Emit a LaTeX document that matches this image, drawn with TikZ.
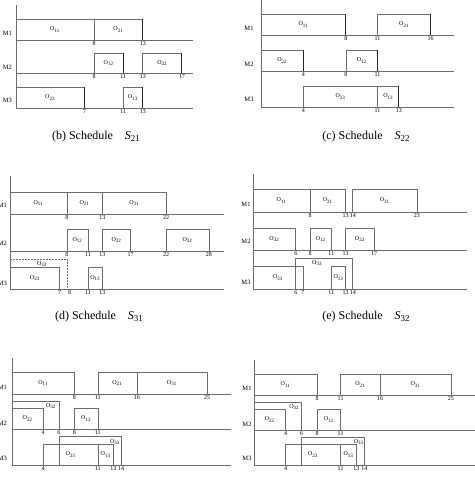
\documentclass[tikz,border=0pt]{standalone}
\usepackage{fontspec}
\setmainfont{Liberation Serif}
\newcounter{nd}
\tikzset{
  ln/.style={draw=gray!85!black, line width=0.55pt},
  rt/.style={draw=black!85, line width=0.8pt},
  dsh/.style={draw=gray!85!black, line width=0.55pt, dash pattern=on 2pt off 1pt},
  oplab/.style={font=\fontsize{6}{6}\selectfont, inner sep=0pt},
  tk/.style={font=\fontsize{6}{6}\selectfont, inner sep=0pt},
  mlab/.style={font=\fontsize{6.5}{6.5}\selectfont, inner sep=0pt},
  captext/.style={font=\fontsize{12}{12}\selectfont, inner sep=0pt}
}
% operation box: t1, t2, top, base, label
\newcommand\opbox[5]{%
  \draw[ln] (#1,#4) -- (#1,#3) -- (#2,#3);
  \draw[rt] (#2,#3) -- (#2,#4);
  \stepcounter{nd}%
  \node[oplab] (n\thend) at ({(#1+#2)/2},{(#3+#4)/2}) {O\textsubscript{#5}};}
% thin operation box, label at given position
\newcommand\ovbox[7]{%
  \draw[ln] (#1,#4) -- (#1,#3) -- (#2,#3) -- (#2,#4);
  \stepcounter{nd}%
  \node[oplab] (n\thend) at (#6,#7) {O\textsubscript{#5}};}
\newcommand\tlab[3]{\stepcounter{nd}\node[tk] (n\thend) at ({#1},{#2+4}) {#3};}
\newcommand\caplab[4]{\stepcounter{nd}\node[captext] (n\thend) at (#1,#2) {(#3) Schedule\quad\textit{S}\raisebox{-0.35ex}{\fontsize{9}{9}\selectfont #4}};}
\begin{document}
\begin{tikzpicture}[x=1pt,y=-1pt]
\useasboundingbox (0,0) rectangle (474,486);
\fill[white] (0,0) rectangle (474,486);

% ---------------- panel b ----------------
\begin{scope}[xshift=16pt, x=9.75pt]
  \draw[ln] (0,5) -- (0,108);
  \foreach \b in {40,73,108} \draw[ln] (0,\b) -- (18.15,\b);
  \opbox{0}{8}{19}{40}{11}
  \opbox{8}{13}{19}{40}{21}
  \opbox{8}{11}{53}{73}{12}
  \opbox{13}{17}{53}{73}{22}
  \opbox{0}{7}{87}{108}{23}
  \opbox{11}{13}{87}{108}{13}
  \tlab{8}{40}{8}\tlab{13}{40}{13}
  \tlab{8}{73}{8}\tlab{11}{73}{11}\tlab{13}{73}{13}\tlab{17}{73}{17}
  \tlab{7}{108}{7}\tlab{11}{108}{11}\tlab{13}{108}{13}
\end{scope}
\node[mlab, anchor=east] (mb1) at (12,33) {M1};
\node[mlab, anchor=east] (mb2) at (12,67) {M2};
\node[mlab, anchor=east] (mb3) at (12,100) {M3};
\caplab{96}{137}{b}{21}

% ---------------- panel c ----------------
\begin{scope}[xshift=261pt, x=10.6pt]
  \draw[ln] (0,0) -- (0,108);
  \foreach \b in {35,71,107} \draw[ln] (0,\b) -- (18.2,\b);
  \opbox{0}{8}{14}{35}{11}
  \opbox{11}{16}{14}{35}{21}
  \opbox{0}{4}{50}{71}{22}
  \opbox{8}{11}{50}{71}{12}
  \opbox{4}{11}{86}{107}{23}
  \opbox{11}{13}{86}{107}{13}
  \tlab{8}{35}{8}\tlab{11}{35}{11}\tlab{16}{35}{16}
  \tlab{4}{71}{4}\tlab{8}{71}{8}\tlab{11}{71}{11}
  \tlab{4}{107}{4}\tlab{11}{107}{11}\tlab{13}{107}{13}
\end{scope}
\node[mlab] (mc1) at (249,28) {M1};
\node[mlab] (mc2) at (249,64) {M2};
\node[mlab] (mc3) at (249,99) {M3};
\caplab{366}{137}{c}{22}

% ---------------- panel d ----------------
\begin{scope}[xshift=10pt, x=7.1pt, rt/.style={ln}]
  \draw[ln] (0,176) -- (0,289);
  \foreach \b in {214,251,289} \draw[ln] (0,\b) -- (30.1,\b);
  \opbox{0}{8}{192}{214}{11}
  \opbox{8}{13}{192}{214}{21}
  \opbox{13}{22}{192}{214}{31}
  \opbox{8}{11}{229}{251}{12}
  \opbox{13}{17}{229}{251}{22}
  \opbox{22}{28}{229}{251}{32}
  \opbox{0}{7}{267}{289}{23}
  \opbox{11}{13}{267}{289}{13}
  \draw[dsh] (0,259) -- (8,259) -- (8,289);
  \stepcounter{nd}\node[oplab] (n\thend) at (4.5,264) {O\textsubscript{33}};
  \tlab{8}{214}{8}\tlab{13}{214}{13}\tlab{22}{214}{22}
  \tlab{8}{251}{8}\tlab{11}{251}{11}\tlab{13}{251}{13}\tlab{17}{251}{17}\tlab{22}{251}{22}\tlab{28}{251}{28}
  \tlab{7}{289}{7}\tlab{8.4}{289}{8}\tlab{11}{289}{11}\tlab{13}{289}{13}
\end{scope}
\node[mlab, anchor=east] (md1) at (7,205) {M1};
\node[mlab, anchor=east] (md2) at (7,243) {M2};
\node[mlab, anchor=east] (md3) at (7,283) {M3};
\caplab{99}{317}{d}{31}

% ---------------- panel e ----------------
\begin{scope}[xshift=253pt, x=7.125pt, rt/.style={ln}]
  \draw[ln] (0,174) -- (0,289);
  \foreach \b in {212,250,289} \draw[ln] (0,\b) -- (30,\b);
  \opbox{0}{8}{189}{212}{11}
  \opbox{8}{13}{189}{212}{21}
  \opbox{14}{23}{189}{212}{31}
  \opbox{0}{6}{228}{250}{32}
  \opbox{8}{11}{228}{250}{12}
  \opbox{13}{17}{228}{250}{22}
  \opbox{0}{7}{266}{289}{23}
  \opbox{11}{13}{266}{289}{13}
  \ovbox{6}{14}{258}{289}{33}{9}{263}
  \tlab{8}{212}{8}\tlab{13}{212}{13}\tlab{14}{212}{14}\tlab{23}{212}{23}
  \tlab{6}{250}{6}\tlab{8}{250}{8}\tlab{11}{250}{11}\tlab{13}{250}{13}\tlab{17}{250}{17}
  \tlab{6}{289}{6}\tlab{7}{289}{7}\tlab{11}{289}{11}\tlab{13}{289}{13}\tlab{14}{289}{14}
\end{scope}
\node[mlab] (me1) at (246,204) {M1};
\node[mlab] (me2) at (246,241) {M2};
\node[mlab] (me3) at (246,282) {M3};
\caplab{366}{317}{e}{32}

% ---------------- panel f ----------------
\begin{scope}[xshift=12pt, x=7.8pt, rt/.style={ln}]
  \draw[ln] (0,358) -- (0,466);
  \foreach \b in {394,429,465} \draw[ln] (0,\b) -- (28.1,\b);
  \opbox{0}{8}{372}{394}{11}
  \opbox{11}{16}{372}{394}{21}
  \opbox{16}{25}{372}{394}{31}
  \ovbox{0}{6}{401}{429}{32}{5}{406}
  \opbox{0}{4}{408}{429}{22}
  \opbox{8}{11}{408}{429}{12}
  \ovbox{6}{14}{436}{465}{33}{13.2}{442}
  \opbox{4}{11}{444}{465}{23}
  \opbox{11}{13}{444}{465}{13}
  \tlab{8}{394}{8}\tlab{11}{394}{11}\tlab{16}{394}{16}\tlab{25}{394}{25}
  \tlab{4}{429}{4}\tlab{6}{429}{6}\tlab{8}{429}{8}\tlab{11}{429}{11}
  \tlab{4}{465}{4}\tlab{11}{465}{11}\tlab{13}{465}{13}\tlab{14}{465}{14}
\end{scope}
\node[mlab, anchor=east] (mf1) at (7,387) {M1};
\node[mlab, anchor=east] (mf2) at (7,423) {M2};
\node[mlab, anchor=east] (mf3) at (7,458) {M3};

% ---------------- panel g ----------------
\begin{scope}[xshift=254pt, x=7.875pt, rt/.style={ln}]
  \draw[ln] (0,360) -- (0,466);
  \foreach \b in {395,430,465} \draw[ln] (0,\b) -- (28,\b);
  \opbox{0}{8}{374}{395}{11}
  \opbox{11}{16}{374}{395}{21}
  \opbox{16}{25}{374}{395}{31}
  \ovbox{0}{6}{402}{430}{32}{5.1}{407}
  \opbox{0}{4}{409}{430}{22}
  \opbox{8}{11}{409}{430}{12}
  \ovbox{6}{14}{437}{465}{33}{13.3}{442}
  \opbox{4}{11}{444}{465}{23}
  \opbox{11}{13}{444}{465}{13}
  \tlab{8}{395}{8}\tlab{11}{395}{11}\tlab{16}{395}{16}\tlab{25}{395}{25}
  \tlab{4}{430}{4}\tlab{6}{430}{6}\tlab{8}{430}{8}\tlab{11}{430}{11}
  \tlab{4}{465}{4}\tlab{11}{465}{11}\tlab{13}{465}{13}\tlab{14}{465}{14}
\end{scope}
\node[mlab] (mg1) at (247,388) {M1};
\node[mlab] (mg2) at (247,424) {M2};
\node[mlab] (mg3) at (247,458) {M3};
\end{tikzpicture}
\end{document}
